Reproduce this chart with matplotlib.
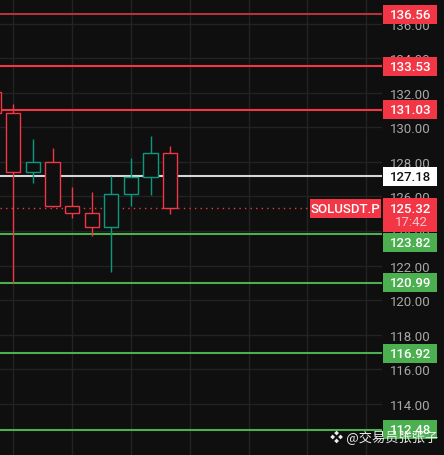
import numpy as np
import matplotlib.pyplot as plt
from matplotlib.patches import Rectangle
from matplotlib.transforms import blended_transform_factory

############## Daten ##############
idx = np.arange(10)
opens = [132.05, 130.81, 127.43, 127.98, 125.43, 125.03, 124.22, 126.13, 127.11, 128.50]
highs = [132.40, 131.35, 129.33, 128.81, 126.55, 126.26, 127.19, 128.23, 129.50, 128.92]
lows = [130.60, 121.00, 126.80, 125.40, 124.77, 123.73, 121.61, 125.47, 126.10, 125.00]
closes = [130.81, 127.40, 127.98, 125.43, 125.03, 124.22, 126.13, 127.11, 128.50, 125.32]

red_levels = [136.56, 133.53, 131.03]
white_levels = [127.18]
green_levels = [123.82, 120.99, 116.92, 112.48]

last_price = 125.32
symbol = "SOLUSDT.P"
countdown = "17:42"
yticks = [114, 116, 118, 120, 122, 124, 126, 128, 130, 132, 134, 136]
watermark = "❖ @交易员张张子"

############## Farben ##############
bg = "#0f0f0f"
grid_c = "#232323"
red = "#F23645"
green_candle = "#089981"
green_line = "#4CAF50"
white_line = "#d6d6d6"

fig = plt.figure(figsize=(4.44, 4.56), dpi=100, facecolor=bg)
ax = fig.add_axes([0, 0, 382/444, 1], facecolor=bg)

ax.set_xlim(0.321, 19.81)
ax.set_ylim(111.03, 137.43)

# Gitter + Preisachse
ax.set_xticks([1, 4, 7, 10, 13, 16, 19])
ax.set_yticks(yticks)
ax.set_yticklabels([f"{v:.2f}" for v in yticks])
ax.grid(True, color=grid_c, linewidth=1.0)
ax.set_axisbelow(True)
ax.tick_params(axis="x", length=0, labelbottom=False)
ax.yaxis.tick_right()
ax.tick_params(axis="y", length=0, pad=35.3, labelcolor="#a8a8a8", labelsize=9.5)
for lbl in ax.get_yticklabels():
    lbl.set_horizontalalignment("right")
    lbl.set_fontfamily("Roboto")
for s in ax.spines.values():
    s.set_visible(False)

# Kerzen (hohl)
w = 0.73
for i in range(len(idx)):
    c = green_candle if closes[i] >= opens[i] else red
    x = idx[i]
    ax.vlines(x, lows[i], highs[i], color=c, linewidth=1.0, zorder=3)
    lo, hi = min(opens[i], closes[i]), max(opens[i], closes[i])
    ax.add_patch(Rectangle((x - w/2, lo), w, hi - lo, facecolor=bg, edgecolor=c,
                           linewidth=1.0, zorder=4))

# Level-Linien
tr = blended_transform_factory(ax.transAxes, ax.transData)
for lv in red_levels:
    col = "#b5313b" if lv == max(red_levels) else red
    ax.axhline(lv, color=col, linewidth=1.5, zorder=2)
for lv in white_levels:
    ax.axhline(lv, color=white_line, linewidth=1.5, zorder=2)
for lv in green_levels:
    ax.axhline(lv, color=green_line, linewidth=1.5, zorder=2)

# aktueller Preis (gepunktet)
ax.axhline(last_price, xmin=0, xmax=310/382, color=red, linewidth=1.0,
           linestyle=(0, (1, 3)), zorder=2)

bx0, bw = 383/382, 54/382
tx = 411/382
h = 1.1
cur_top = last_price + 0.57
cur_bot = last_price - 1.36

def label(level, face, tc, top=None):
    t = level + h/2 if top is None else top
    ax.add_patch(Rectangle((bx0, t - h), bw, h, transform=tr, facecolor=face,
                           edgecolor="none", clip_on=False, zorder=6))
    ax.text(tx, t - h/2, f"{level:.2f}", transform=tr, ha="center", va="center",
            color=tc, fontsize=9.5, family="Roboto", fontweight="medium",
            clip_on=False, zorder=7)

for lv in red_levels:
    label(lv, red, "white")
for lv in white_levels:
    label(lv, "white", "#131313")
for lv in green_levels:
    top = None
    if lv + h/2 > cur_bot:
        top = cur_bot - 0.07  # unter die Preisbox schieben
    label(lv, green_line, "white", top)

# Preisbox mit Countdown
ax.add_patch(Rectangle((bx0, cur_bot), bw, cur_top - cur_bot, transform=tr,
                       facecolor=red, edgecolor="none", clip_on=False, zorder=6))
ax.text(tx, last_price - 0.03, f"{last_price:.2f}", transform=tr, ha="center",
        va="center", color="white", fontsize=9.5, family="Roboto",
        fontweight="medium", clip_on=False, zorder=7)
ax.text(tx, last_price - 0.78, countdown, transform=tr, ha="center", va="center",
        color="#f9c4c8", fontsize=9.5, family="Roboto", clip_on=False, zorder=7)

# Symbol-Box
ax.add_patch(Rectangle((310/382, last_price - 0.56), 71/382, 1.12, transform=tr,
                       facecolor=red, edgecolor="none", clip_on=False, zorder=6))
ax.text(345.5/382, last_price, symbol, transform=tr, ha="center", va="center",
        color="white", fontsize=9.5, family="Roboto", fontweight="medium",
        clip_on=False, zorder=7)

# Wasserzeichen
fig.text(384/444, 1 - 438/456, watermark, ha="center", va="center", fontsize=9.5,
         color="#eeeeee", family=["Noto Sans CJK SC", "DejaVu Sans"], zorder=10)

fig.savefig("out.png", dpi=100, facecolor=bg)
